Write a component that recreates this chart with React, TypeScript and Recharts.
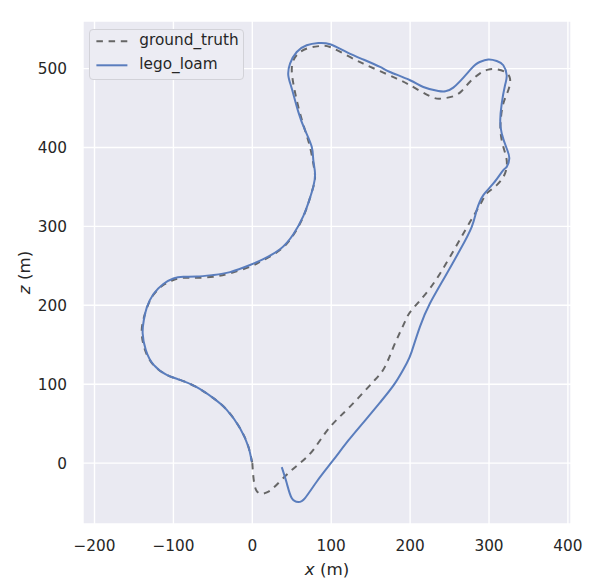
import React from 'react';
import { LineChart, Line, XAxis, YAxis, CartesianGrid, Legend, Label } from 'recharts';

const gtX = [0, 1.3, 4.7, 11.9, 18.2, 26.6, 43.5, 60.5, 77.3, 97, 123.8, 153.4, 168.2, 180.9, 193.5, 202, 225.2, 250.6, 276, 290.7, 297.1, 309.8, 320.3, 322.4, 318.1, 314.8, 314.8, 318.1, 324.4, 326.6, 320.3, 309.8, 299.1, 288.2, 275.6, 265.4, 254.7, 240, 225.2, 199.9, 183, 161.9, 140.7, 119.6, 98.5, 85.8, 73.1, 60.5, 52, 50, 52, 58.3, 66.8, 73.1, 77.3, 79.5, 77.3, 72.2, 64.6, 52, 35.1, 13.9, -2.9, -28.3, -49.4, -70.5, -87.5, -100.1, -112.8, -125.5, -133.8, -138.2, -140.2, -136, -125.5, -108.5, -91.6, -70.5, -49.4, -32.4, -15.6, -5.1, 0];
const gtZ = [0, -17, -33.9, -39, -37.2, -31.6, -14.8, 0, 16.8, 44, 71.6, 103.3, 122.3, 151.9, 179.2, 194, 221.5, 261.5, 305.8, 331.1, 341.8, 352.3, 367.1, 383.9, 400.8, 417.7, 434.6, 455.7, 472.5, 487.3, 495.7, 499.1, 498.7, 493.7, 483, 471.6, 464.9, 462, 464.9, 478.9, 487.3, 496.7, 506.3, 516.8, 527.3, 528.6, 526.6, 521, 510.5, 497.8, 481, 451.4, 421.9, 400.8, 379.7, 362.8, 350.1, 333.3, 312.2, 289, 270, 257.3, 248.9, 240.5, 236.2, 234.9, 234.9, 232, 225.7, 213, 196.2, 181.4, 164.6, 143.4, 124.4, 111.8, 105.4, 96.2, 82.3, 67.5, 44.3, 21, 0];

const loamX = [37.3, 43.6, 49.9, 58.3, 66.8, 82, 102, 122, 142, 162, 180.9, 195.7, 202, 212.5, 225.2, 244.2, 263.2, 278.1, 284.4, 292.8, 305.5, 318.1, 322.4, 325.7, 322.4, 316.1, 314.2, 316.1, 320.3, 322.4, 318.1, 309.8, 299.1, 288.2, 277.6, 254.7, 235.7, 216.7, 199.9, 174.5, 161.9, 140.7, 119.6, 98.5, 83.7, 68.9, 56.3, 47.8, 45.6, 50, 58.3, 66.8, 75.3, 77.3, 79.5, 77.3, 72.2, 64.6, 52, 35.1, 13.9, -2.9, -28.3, -49.4, -70.5, -87.5, -100.1, -112.8, -125.5, -133.8, -137.5, -139, -135, -125, -108.5, -91.6, -70.5, -49.4, -32.4, -15.6, -5.1, -0.8];
const loamZ = [-5.1, -25.3, -44.3, -49.4, -44.3, -23, 3, 29, 53, 77, 101.3, 126.6, 141.3, 172.9, 202.5, 236.2, 270, 299.5, 320.6, 339.6, 354.4, 371.3, 375.4, 386.1, 398.7, 417.7, 434.6, 455.7, 478.9, 491.5, 504.2, 509.6, 511.4, 508.4, 500, 475.9, 471.6, 476.7, 485.2, 495.7, 502.1, 511.5, 520.9, 530.8, 532.4, 529.5, 521, 506.3, 491.5, 474.7, 445.1, 421.9, 400.8, 383.9, 367.1, 350.1, 333.3, 313, 290, 271, 258.5, 251, 242, 238.4, 236.5, 236.2, 234, 227, 214, 197, 181.4, 164.6, 143.4, 124.4, 111.8, 105.4, 96.2, 82.3, 67.5, 44.3, 21, 2];

const xTicks = [-200, -100, 0, 100, 200, 300, 400];
const zTicks = [0, 100, 200, 300, 400, 500];
const seriesNames = ['ground_truth', 'lego_loam'];

const gtData = gtX.map((x, i) => ({ x, z: gtZ[i] }));
const loamData = loamX.map((x, i) => ({ x, z: loamZ[i] }));

const GT_COLOR = '#666666';
const LOAM_COLOR = '#5a7dbd';
const FONT = "'DejaVu Sans', sans-serif";
const TEXT = '#262626';

const fmt = (v: number) => (v < 0 ? `\u2212${Math.abs(v)}` : `${v}`);

const XLabel = (props: any) => {
  const vb = props.viewBox || {};
  const cx = vb.x + vb.width / 2;
  return (
    <text x={cx} y={vb.y + 51} textAnchor="middle" fontFamily={FONT} fontSize={16.7} fill={TEXT}>
      <tspan fontStyle="italic">x</tspan>
      <tspan> (m)</tspan>
    </text>
  );
};

const YLabel = (props: any) => {
  const vb = props.viewBox || {};
  const cy = vb.y + vb.height / 2;
  const x = 21.5;
  return (
    <text x={x} y={cy} transform={`rotate(-90, ${x}, ${cy})`} textAnchor="middle" fontFamily={FONT} fontSize={16.7} fill={TEXT}>
      <tspan fontStyle="italic">z</tspan>
      <tspan> (m)</tspan>
    </text>
  );
};

const LegendBox = () => (
  <div
    style={{
      width: 153,
      height: 49,
      border: '1px solid #d2d2d8',
      borderRadius: 4,
      background: '#ECECF3',
      fontFamily: FONT,
      fontSize: 15.3,
      color: TEXT,
      position: 'relative',
      boxSizing: 'content-box',
    }}
  >
    <svg width={40} height={50} style={{ position: 'absolute', left: 0, top: 0 }}>
      <line x1={6.4} x2={37.4} y1={11.3} y2={11.3} stroke={GT_COLOR} strokeWidth={2} strokeDasharray="6.5 5.7" />
      <line x1={6.4} x2={37.4} y1={35.3} y2={35.3} stroke={LOAM_COLOR} strokeWidth={2} />
    </svg>
    <div style={{ position: 'absolute', left: 49, top: 1.5, lineHeight: '18px', whiteSpace: 'nowrap' }}>{seriesNames[0]}</div>
    <div style={{ position: 'absolute', left: 49, top: 25.5, lineHeight: '18px', whiteSpace: 'nowrap' }}>{seriesNames[1]}</div>
  </div>
);

export default function App() {
  return (
    <div style={{ width: 589, height: 579 }}>
      <LineChart width={589} height={579} margin={{ top: 13, right: 26, bottom: 8, left: 0 }}>
        <CartesianGrid fill="#EAEAF2" fillOpacity={1} stroke="#ffffff" strokeWidth={1.4} />
        <XAxis
          type="number"
          dataKey="x"
          domain={[-214.6, 403.9]}
          allowDataOverflow
          ticks={xTicks}
          tickFormatter={fmt}
          axisLine={false}
          tickLine={false}
          tickSize={0}
          tickMargin={16}
          height={55}
          tick={{ fontFamily: FONT, fontSize: 15.3, fill: TEXT }}
          label={<Label content={XLabel} />}
        />
        <YAxis
          type="number"
          dataKey="z"
          domain={[-77.2, 560.3]}
          allowDataOverflow
          ticks={zTicks}
          tickFormatter={fmt}
          axisLine={false}
          tickLine={false}
          tickSize={0}
          tickMargin={16}
          width={75}
          tick={{ fontFamily: FONT, fontSize: 15.3, fill: TEXT }}
          label={<Label content={YLabel} />}
        />
        <Legend
          layout="vertical"
          align="center"
          verticalAlign="middle"
          content={<LegendBox />}
          wrapperStyle={{ left: 81.3, top: 20.7, width: 156, height: 52 }}
        />
        <Line
          name={seriesNames[0]}
          data={gtData}
          dataKey="z"
          type="natural"
          stroke={GT_COLOR}
          strokeWidth={2}
          strokeDasharray="6.5 5.7"
          dot={false}
          activeDot={false}
          isAnimationActive={false}
        />
        <Line
          name={seriesNames[1]}
          data={loamData}
          dataKey="z"
          type="natural"
          stroke={LOAM_COLOR}
          strokeWidth={2}
          dot={false}
          activeDot={false}
          isAnimationActive={false}
        />
      </LineChart>
    </div>
  );
}
